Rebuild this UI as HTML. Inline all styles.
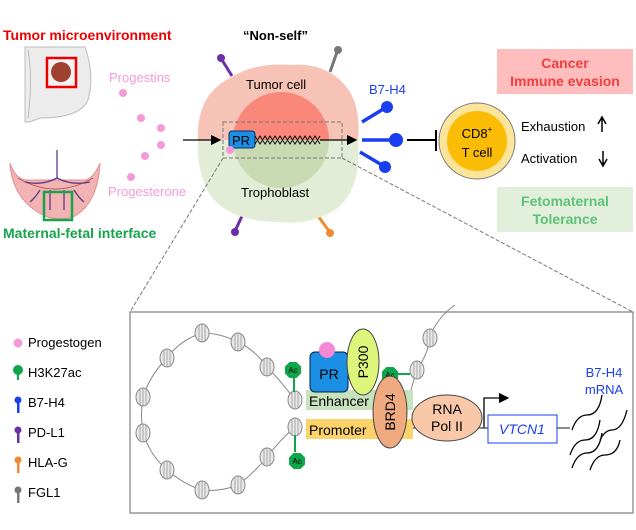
<!DOCTYPE html>
<html><head><meta charset="utf-8"><style>body{margin:0;background:#fff}svg{display:block;font-family:"Liberation Sans",Arial,sans-serif}</style></head><body>
<svg width="636" height="530" viewBox="0 0 636 530" xmlns="http://www.w3.org/2000/svg">
<defs>
<marker id="ah" markerWidth="8" markerHeight="8" refX="7" refY="4" orient="auto"><path d="M0,0 L8,4 L0,8z" fill="#000"/></marker>
<g id="nuc"><ellipse cx="0" cy="0" rx="7" ry="9" fill="#e8e8e8" stroke="#888"/><path d="M-3,-8 v16 M0,-9 v18 M3,-8 v16" stroke="#999" stroke-width="0.8"/></g>
<g id="ac"><polygon points="-3.5,-8 3.5,-8 8,-3.5 8,3.5 3.5,8 -3.5,8 -8,3.5 -8,-3.5" fill="#0ea64b"/><text x="0" y="3" font-size="8" text-anchor="middle" fill="#000">Ac</text></g>
</defs>
<!-- left -->
<text x="3" y="40" font-size="14" font-weight="bold" fill="#e00">Tumor microenvironment</text>
<path d="M25,47 L85,47 Q95,75 88,100 Q80,118 40,118 L30,122 L25,122z" fill="#ececec" stroke="#bbb"/>
<path d="M28,50 q5,30 0,68" stroke="#bbb" fill="none"/>
<rect x="47" y="58" width="29" height="29" fill="#f3f3f3" stroke="#e00" stroke-width="2.5"/>
<circle cx="61" cy="72" r="10" fill="#a0402e"/>
<path d="M10,163 Q12,200 45,216 Q60,222 75,216 Q98,202 100,163 Q94,178 85,180 L25,180 Q15,178 10,163z" fill="#f3b3b3" stroke="#e08e8e"/>
<path d="M18,178 Q55,200 93,178" stroke="#c05060" fill="none"/>
<path d="M57,150 v28 M57,178 q-15,8 -32,4 M57,178 q15,8 33,4 M50,190 v20 M64,190 v20 M40,190 q-5,8 -10,12 M74,190 q5,8 10,12" stroke="#5a3a8a" stroke-width="1.3" fill="none"/>
<rect x="44" y="192" width="28" height="28" fill="none" stroke="#16a34a" stroke-width="2.5"/>
<text x="3" y="238" font-size="14" font-weight="bold" fill="#16a34a">Maternal-fetal interface</text>
<text x="109" y="82" font-size="13" fill="#f59ad8">Progestins</text>
<text x="108" y="196" font-size="13" fill="#f59ad8">Progesterone</text>
<g fill="#f59ad8"><circle cx="123" cy="93" r="4"/><circle cx="141" cy="118" r="4"/><circle cx="161" cy="128" r="4"/><circle cx="161" cy="145" r="4"/><circle cx="145" cy="156" r="4"/><circle cx="131" cy="177" r="4"/></g>
<text x="243" y="40" font-size="13" font-weight="bold">“Non-self”</text>
<!-- ligands -->
<g stroke-width="3"><path d="M232,76 L222,60" stroke="#6b2fa8"/><path d="M330,72 L337,52" stroke="#777"/><path d="M243,214 L235,231" stroke="#6b2fa8"/><path d="M318,216 L329,231" stroke="#f08a30"/></g>
<circle cx="221" cy="58" r="4" fill="#6b2fa8"/><circle cx="338" cy="50" r="4" fill="#777"/><circle cx="235" cy="232" r="4" fill="#6b2fa8"/><circle cx="330" cy="233" r="4" fill="#f08a30"/>
<!-- cell -->
<path d="M198,140 Q196,95 230,78 Q255,62 290,65 Q320,62 340,80 Q362,100 358,140 z" fill="#f7c3b6"/>
<path d="M198,140 L358,140 Q362,190 335,210 Q310,225 280,222 Q230,222 210,195 Q196,170 198,140z" fill="#e3ecd6"/>
<path d="M233,140 A48,48 0 0 1 329,140z" fill="#f9877a"/>
<path d="M233,140 A48,48 0 0 0 329,140z" fill="#c9d9b1"/>
<text x="246" y="89" font-size="13">Tumor cell</text>
<text x="241" y="197" font-size="13">Trophoblast</text>
<line x1="183" y1="140" x2="220" y2="140" stroke="#000" stroke-width="1.3" marker-end="url(#ah)"/>
<rect x="223" y="122" width="119" height="36" fill="none" stroke="#777" stroke-dasharray="4,2"/>
<rect x="229" y="131" width="26" height="17" rx="3" fill="#1a8fe3" stroke="#036"/>
<text x="232" y="145" font-size="13">PR</text>
<circle cx="230" cy="150" r="4" fill="#f59ad8"/>
<path d="M255,136 l5,8 l5,-8 l5,8 l5,-8 l5,8 l5,-8 l5,8 l5,-8 l5,8 l5,-8 l5,8 l5,-8 l5,8 M255,144 l5,-8 l5,8 l5,-8 l5,8 l5,-8 l5,8 l5,-8 l5,8 l5,-8 l5,8 l5,-8 l5,8 l5,-8" stroke="#000" fill="none" stroke-width="0.9"/>
<line x1="320" y1="140" x2="356" y2="140" stroke="#000" stroke-width="1.3" marker-end="url(#ah)"/>
<line x1="223" y1="158" x2="130" y2="312" stroke="#777" stroke-dasharray="4,2"/>
<line x1="342" y1="158" x2="633" y2="312" stroke="#777" stroke-dasharray="4,2"/>
<!-- B7-H4 -->
<text x="369" y="94" font-size="13" fill="#1a3ff0">B7-H4</text>
<g stroke="#1a3ff0" stroke-width="3.5"><path d="M362,122 L385,108"/><path d="M362,140 L393,140"/><path d="M360,152 L382,165"/></g>
<g fill="#1a3ff0"><circle cx="387" cy="107" r="6"/><circle cx="396" cy="140" r="7"/><circle cx="385" cy="167" r="6"/></g>
<path d="M407,140 H436 M436,130 V151" stroke="#000" stroke-width="2"/>
<circle cx="477" cy="141" r="38" fill="#fde49b" stroke="#777"/>
<circle cx="477" cy="141" r="30" fill="#fbbc05"/>
<text x="477" y="138" font-size="13" text-anchor="middle">CD8<tspan font-size="8" dy="-6">+</tspan></text>
<text x="477" y="157" font-size="13" text-anchor="middle">T cell</text>
<text x="521" y="131" font-size="13">Exhaustion</text>
<text x="521" y="163" font-size="13">Activation</text>
<path d="M602,132 V119 M598,124 L602,117 L606,124" stroke="#000" stroke-width="1.5" fill="none"/>
<path d="M603,151 V164 M599,159 L603,166 L607,159" stroke="#000" stroke-width="1.5" fill="none"/>
<rect x="497" y="49" width="136" height="45" fill="#ffbdbd"/>
<text x="565" y="68" font-size="14" font-weight="bold" fill="#f03e3e" text-anchor="middle">Cancer</text>
<text x="565" y="86" font-size="14" font-weight="bold" fill="#f03e3e" text-anchor="middle">Immune evasion</text>
<rect x="497" y="187" width="136" height="45" fill="#e2efda"/>
<text x="565" y="206" font-size="14" font-weight="bold" fill="#5ec27a" text-anchor="middle">Fetomaternal</text>
<text x="565" y="224" font-size="14" font-weight="bold" fill="#5ec27a" text-anchor="middle">Tolerance</text>
<!-- bottom box -->
<rect x="130" y="312" width="503" height="201" fill="#fff" stroke="#888" stroke-width="1.3"/>
<path d="M295,400 Q280,380 267,367 Q255,350 238,342 Q220,333 202,333 Q180,340 167,358 Q150,375 143,397 Q140,415 143,433 Q150,455 167,470 Q185,485 202,490 Q220,492 238,485 Q255,472 267,457 Q280,440 295,427 M417,370 Q430,350 430,335 Q440,315 455,305 M417,370 Q412,385 410,395" stroke="#888" fill="none"/>
<use href="#nuc" x="202" y="333"/><use href="#nuc" x="238" y="342"/><use href="#nuc" x="267" y="367"/><use href="#nuc" x="167" y="358"/><use href="#nuc" x="143" y="397"/><use href="#nuc" x="143" y="433"/><use href="#nuc" x="167" y="470"/><use href="#nuc" x="202" y="490"/><use href="#nuc" x="238" y="485"/><use href="#nuc" x="267" y="457"/><use href="#nuc" x="295" y="400"/><use href="#nuc" x="295" y="427"/><use href="#nuc" x="417" y="370"/><use href="#nuc" x="430" y="338"/>
<rect x="306" y="390" width="107" height="20" fill="#c8e2bd"/>
<rect x="306" y="419" width="107" height="20" fill="#fcd26a"/>
<text x="309" y="406" font-size="14">Enhancer</text>
<text x="309" y="435" font-size="14">Promoter</text>
<path d="M294,378 V392 M295,435 V452 M398,374 H410" stroke="#0ea64b" stroke-width="2"/>
<use href="#ac" x="293" y="370"/><use href="#ac" x="297" y="461"/><use href="#ac" x="390" y="375"/>
<rect x="310" y="352" width="38" height="40" rx="5" fill="#1a8fe3" stroke="#024"/>
<text x="329" y="379" font-size="14" text-anchor="middle">PR</text>
<circle cx="327" cy="350" r="8" fill="#f589d4"/>
<ellipse cx="363" cy="362" rx="16" ry="33" fill="#ddf57a" stroke="#444"/>
<text font-size="14" transform="translate(368,362) rotate(-90)" text-anchor="middle">P300</text>
<ellipse cx="390" cy="412" rx="17" ry="36" fill="#f0aa80" stroke="#444"/>
<text font-size="14" transform="translate(395,412) rotate(-90)" text-anchor="middle">BRD4</text>
<line x1="413" y1="428" x2="485" y2="428" stroke="#666" stroke-width="1.5"/>
<ellipse cx="447" cy="418" rx="35" ry="23" fill="#f8c8a8" stroke="#444"/>
<text x="447" y="414" font-size="14" text-anchor="middle">RNA</text>
<text x="447" y="431" font-size="14" text-anchor="middle">Pol II</text>
<path d="M484,428 V398 H508" stroke="#000" stroke-width="1.3" fill="none" marker-end="url(#ah)"/>
<line x1="482" y1="428" x2="570" y2="428" stroke="#666" stroke-width="1.5"/>
<rect x="488" y="415" width="69" height="28" fill="#fff" stroke="#1a3ff0"/>
<text x="522" y="434" font-size="14" font-style="italic" fill="#1a3ff0" text-anchor="middle">VTCN1</text>
<text x="604" y="377" font-size="13" fill="#1a3ff0" text-anchor="middle">B7-H4</text>
<text x="604" y="394" font-size="13" fill="#1a3ff0" text-anchor="middle">mRNA</text>
<g stroke="#000" stroke-width="1.3" fill="none"><path d="M572,430 q5,-15 15,-15 q12,0 15,-20"/><path d="M570,455 q5,-15 15,-15 q12,0 15,-20"/><path d="M572,468 q5,-15 15,-15 q12,0 15,-20"/><path d="M590,470 q5,-15 15,-15 q12,0 15,-15"/><path d="M600,440 q5,-10 12,-10 q10,0 15,-20"/></g>
<!-- legend -->
<g font-size="13">
<circle cx="18" cy="343" r="4.5" fill="#f59ad8"/><text x="28" y="347">Progestogen</text>
<rect x="17" y="372" width="2" height="8" fill="#0ea64b"/><circle cx="18" cy="370" r="5" fill="#0ea64b"/><text x="28" y="377">H3K27ac</text>
<rect x="17" y="400" width="2.5" height="13" fill="#1a3ff0"/><circle cx="18" cy="400" r="3.5" fill="#1a3ff0"/><text x="28" y="407">B7-H4</text>
<rect x="17" y="430" width="2.5" height="13" fill="#6b2fa8"/><circle cx="18" cy="430" r="3.5" fill="#6b2fa8"/><text x="28" y="437">PD-L1</text>
<rect x="17" y="460" width="2.5" height="13" fill="#f08a30"/><circle cx="18" cy="460" r="3.5" fill="#f08a30"/><text x="28" y="467">HLA-G</text>
<rect x="17" y="490" width="2.5" height="13" fill="#777"/><circle cx="18" cy="490" r="3.5" fill="#777"/><text x="28" y="497">FGL1</text>
</g>
</svg>
</body></html>
